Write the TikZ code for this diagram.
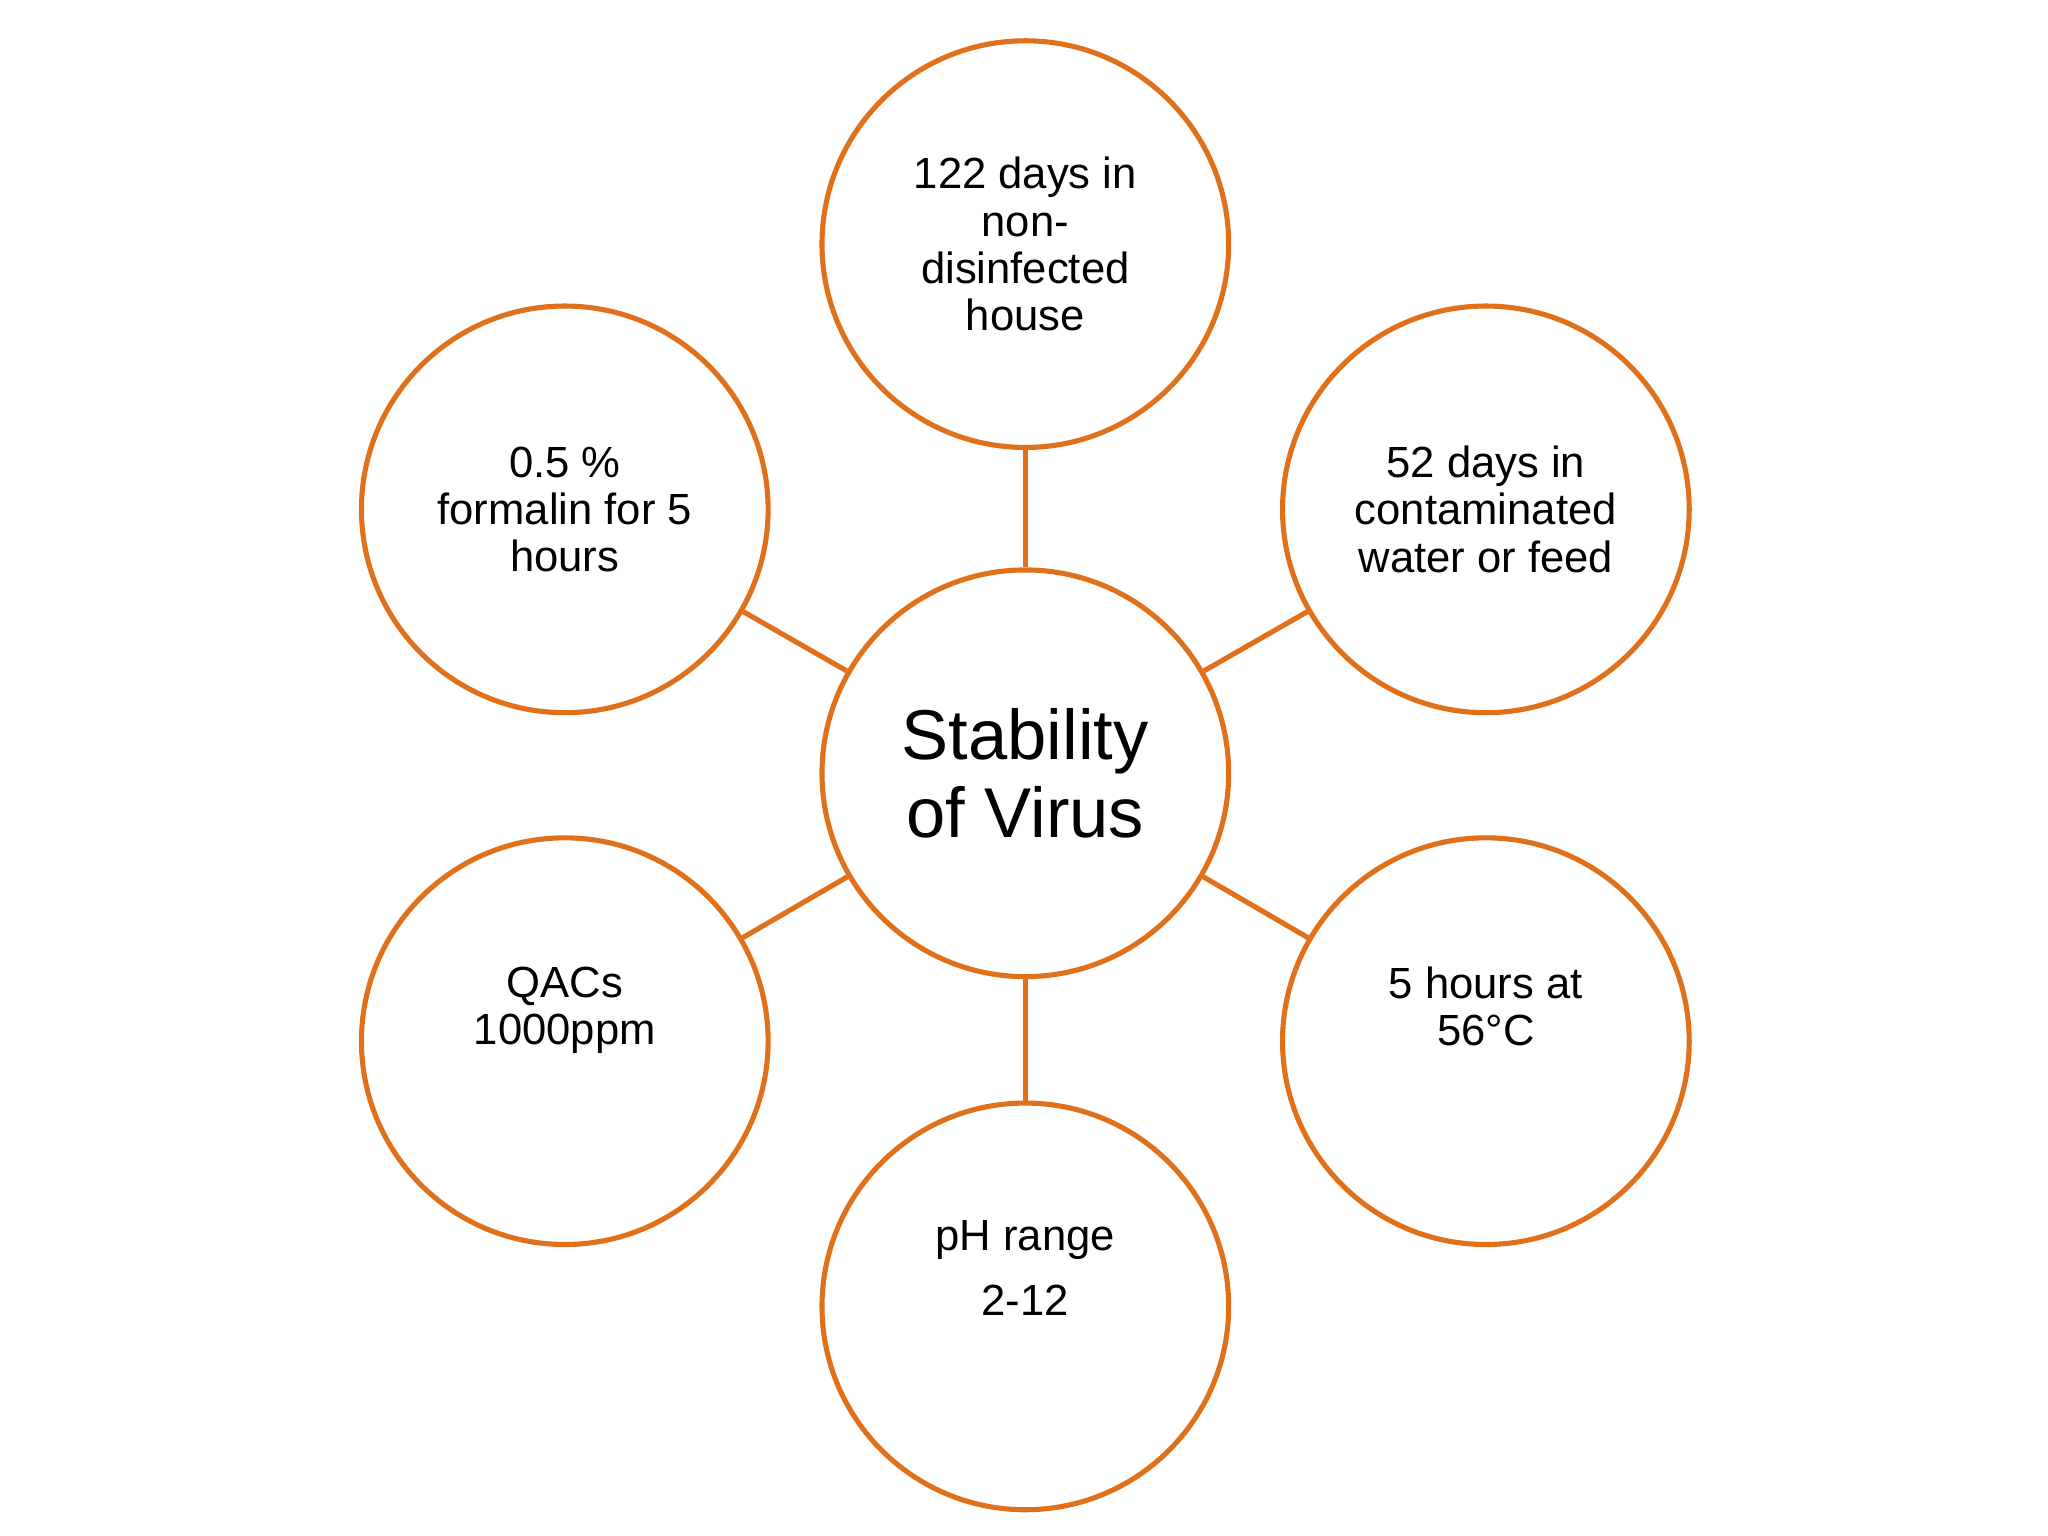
\documentclass[tikz,border=0pt]{standalone}
\usepackage{fontspec}
\setmainfont{Liberation Sans}
\definecolor{orng}{HTML}{E0701A}
\begin{document}
\begin{tikzpicture}[x=0.01cm,y=-0.01cm,
  circ/.style={circle,draw=orng,line width=1.1pt,minimum size=3.08cm,inner sep=0pt,align=center,font=\fontsize{9.4}{10.2}\selectfont},
  conn/.style={draw=orng,line width=1.1pt}]
\useasboundingbox (0,0) rectangle (1552,1164);
\node[circ,font=\fontsize{15.2}{16.8}\selectfont] (c) at (777,586) {Stability\\of Virus};
\node[circ] (t) at (777,185) {122 days in\\non-\\disinfected\\house};
\node[circ] (ul) at (428,386) {0.5 \%\\formalin for 5\\hours};
\node[circ] (ur) at (1126,386) {52 days in\\contaminated\\water or feed};
\node[circ] (ll) at (428,789) {QACs\\1000ppm\\[1ex]};
\node[circ] (lr) at (1126,789) {5 hours at\\56°C\\[1ex]};
\node[circ,font=\fontsize{9.4}{14}\selectfont] (b) at (777,990) {pH range\\2-12\\[0.5ex]};
\foreach \n in {t,ul,ur,ll,lr,b} \draw[conn] (c) -- (\n);
\end{tikzpicture}
\end{document}
